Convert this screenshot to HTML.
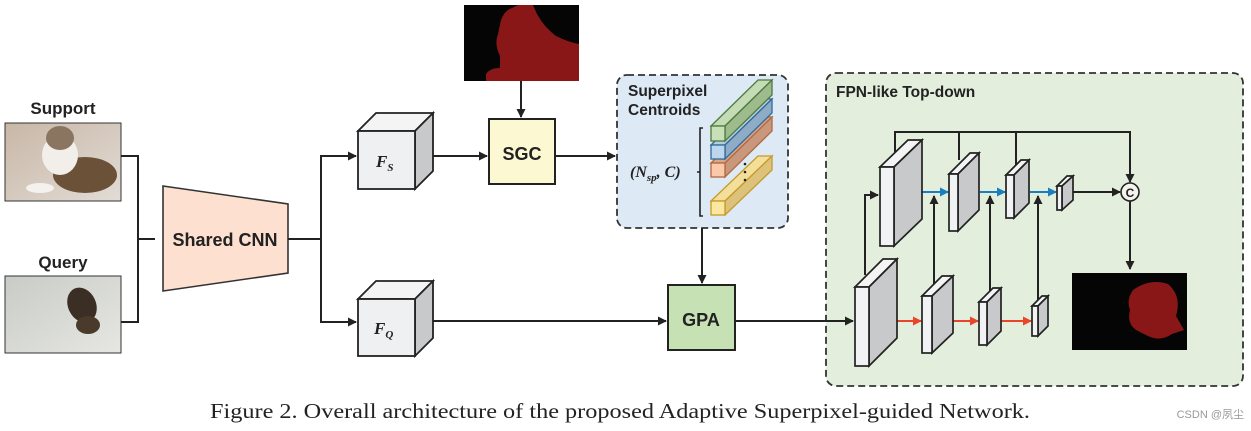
<!DOCTYPE html>
<html><head><meta charset="utf-8"><style>
html,body{margin:0;padding:0;background:#fff;}
svg{display:block;}
.b{font-family:"Liberation Sans",Arial,sans-serif;font-weight:bold;}
</style></head><body>
<svg width="1251" height="431" viewBox="0 0 1251 431" xmlns="http://www.w3.org/2000/svg">
<defs>
<marker id="ah" markerWidth="9" markerHeight="9" refX="8" refY="4.5" orient="auto" markerUnits="userSpaceOnUse"><path d="M0,0 L9,4.5 L0,9 z" fill="#222"/></marker>
<marker id="ab" markerWidth="9" markerHeight="9" refX="8" refY="4.5" orient="auto" markerUnits="userSpaceOnUse"><path d="M0,0 L9,4.5 L0,9 z" fill="#1a7fc1"/></marker>
<marker id="ar" markerWidth="9" markerHeight="9" refX="8" refY="4.5" orient="auto" markerUnits="userSpaceOnUse"><path d="M0,0 L9,4.5 L0,9 z" fill="#e8452a"/></marker>
<linearGradient id="sg" x1="0" y1="0" x2="1" y2="1"><stop offset="0" stop-color="#c8b7a6"/><stop offset="1" stop-color="#e2dcd6"/></linearGradient>
<linearGradient id="qg" x1="0" y1="0" x2="1" y2="1"><stop offset="0" stop-color="#c9cbc6"/><stop offset="1" stop-color="#e6e7e3"/></linearGradient>
</defs>

<text x="63" y="114" class="b" font-size="17" text-anchor="middle" fill="#222">Support</text>
<text x="63" y="268" class="b" font-size="17" text-anchor="middle" fill="#222">Query</text>
<rect x="5" y="123" width="116" height="78" fill="url(#sg)" stroke="#333" stroke-width="1"/>
<ellipse cx="85" cy="175" rx="32" ry="18" fill="#6b5138"/>
<ellipse cx="60" cy="155" rx="18" ry="20" fill="#f2eeea"/>
<ellipse cx="60" cy="138" rx="14" ry="12" fill="#8a7560"/>
<ellipse cx="40" cy="188" rx="14" ry="5" fill="#f4f1ee"/>
<rect x="5" y="276" width="116" height="77" fill="url(#qg)" stroke="#333" stroke-width="1"/>
<ellipse cx="82" cy="305" rx="14" ry="18" fill="#3b2e24" transform="rotate(-25 82 305)"/>
<ellipse cx="88" cy="325" rx="12" ry="9" fill="#4a3a2c"/>

<path d="M121,156 H138 V322 H121 M138,239 H155" fill="none" stroke="#222" stroke-width="2"/>
<path d="M163,186 L288,204 L288,273 L163,291 Z" fill="#fde0cf" stroke="#333" stroke-width="1.6"/>
<text x="225" y="246" class="b" font-size="18" text-anchor="middle" fill="#222">Shared CNN</text>
<path d="M288,239 H321 V156 H340 M321,239 V322 H340" fill="none" stroke="#222" stroke-width="2"/>
<path d="M339,156 H356" stroke="#222" stroke-width="2" marker-end="url(#ah)"/>
<path d="M339,322 H356" stroke="#222" stroke-width="2" marker-end="url(#ah)"/>

<g stroke="#222" stroke-width="1.8">
<path d="M358,131 L376,113 L433,113 L415,131 Z" fill="#f4f4f5"/>
<path d="M415,131 L433,113 L433,171 L415,189 Z" fill="#c8c9cb"/>
<rect x="358" y="131" width="57" height="58" fill="#eef0f2"/>
</g>
<text x="376" y="167" font-family="Liberation Serif,serif" font-style="italic" font-weight="bold" font-size="17" fill="#222">F<tspan font-size="11" dy="4">S</tspan></text>
<g stroke="#222" stroke-width="1.8">
<path d="M358,299 L376,281 L433,281 L415,299 Z" fill="#f4f4f5"/>
<path d="M415,299 L433,281 L433,338 L415,356 Z" fill="#c8c9cb"/>
<rect x="358" y="299" width="57" height="57" fill="#eef0f2"/>
</g>
<text x="374" y="334" font-family="Liberation Serif,serif" font-style="italic" font-weight="bold" font-size="17" fill="#222">F<tspan font-size="11" dy="4">Q</tspan></text>

<rect x="464" y="5" width="115" height="76" fill="#050505"/>
<path d="M486,81 L486,74 Q490,68 500,68 L500,56 Q494,44 498,34 L501,20 Q505,10 512,8 L518,5 L533,5 L537,14 Q544,27 556,36 Q568,42 579,44 L579,81 Z" fill="#8a1717"/>
<path d="M521,81 V117" stroke="#222" stroke-width="2" marker-end="url(#ah)"/>
<rect x="489" y="119" width="66" height="65" fill="#fcf8d2" stroke="#222" stroke-width="2"/>
<text x="522" y="160" class="b" font-size="18" text-anchor="middle" fill="#222">SGC</text>
<path d="M433,156 H487" stroke="#222" stroke-width="2" marker-end="url(#ah)"/>
<path d="M555,156 H615" stroke="#222" stroke-width="2" marker-end="url(#ah)"/>

<rect x="617" y="75" width="171" height="153" rx="10" fill="#dde9f5" stroke="#333" stroke-width="1.8" stroke-dasharray="7,4"/>
<text x="628" y="96" class="b" font-size="15.5" fill="#222">Superpixel</text>
<text x="628" y="115" class="b" font-size="15.5" fill="#222">Centroids</text>
<text x="630" y="177" font-family="Liberation Serif,serif" font-style="italic" font-weight="bold" font-size="16" fill="#222">(N<tspan font-size="11" dy="4">sp</tspan><tspan dy="-4">, C)</tspan></text>
<path d="M703,128 H700 V216 H703 M697,172 H700" fill="none" stroke="#222" stroke-width="1.6"/>
<g stroke-width="1.3">
<g stroke="#b36a3e"><path d="M711,163 L758,117 L772,117 L725,163 Z" fill="#d9a78c"/><path d="M725,163 L772,117 L772,131 L725,177 Z" fill="#c9987c"/><rect x="711" y="163" width="14" height="14" fill="#f9c9aa"/></g>
<g stroke="#2f6a99"><path d="M711,145 L758,99 L772,99 L725,145 Z" fill="#b5cde0"/><path d="M725,145 L772,99 L772,113 L725,159 Z" fill="#8eacc5"/><rect x="711" y="145" width="14" height="14" fill="#bcd7ed"/></g>
<g stroke="#4d7a3c"><path d="M711,126 L758,80 L772,80 L725,126 Z" fill="#c4dcb6"/><path d="M725,126 L772,80 L772,95 L725,141 Z" fill="#9dbb8d"/><rect x="711" y="126" width="14" height="15" fill="#c8e0b8"/></g>
<g stroke="#c59a2a"><path d="M711,201 L758,156 L772,156 L725,201 Z" fill="#f4df9a"/><path d="M725,201 L772,156 L772,170 L725,215 Z" fill="#dcc27a"/><rect x="711" y="201" width="14" height="14" fill="#fbe79f"/></g>
</g>
<g fill="#222"><circle cx="745" cy="164" r="1.3"/><circle cx="745" cy="172" r="1.3"/><circle cx="745" cy="180" r="1.3"/></g>
<path d="M702,228 V283" stroke="#222" stroke-width="2" marker-end="url(#ah)"/>

<path d="M433,321 H666" stroke="#222" stroke-width="2" marker-end="url(#ah)"/>
<rect x="668" y="285" width="67" height="65" fill="#c6e2b4" stroke="#222" stroke-width="2"/>
<text x="701" y="326" class="b" font-size="18" text-anchor="middle" fill="#222">GPA</text>

<rect x="826" y="73" width="417" height="313" rx="10" fill="#e3efdc" stroke="#333" stroke-width="1.8" stroke-dasharray="7,4"/>
<text x="836" y="97" class="b" font-size="15.5" fill="#222">FPN-like Top-down</text>
<path d="M735,321 H853" stroke="#222" stroke-width="2" marker-end="url(#ah)"/>

<g fill="none" stroke="#222" stroke-width="2">
<path d="M895,152 V132 H1130 V182" marker-end="url(#ah)"/>
<path d="M959,160 V132"/>
<path d="M1016,166 V132"/>
<path d="M865,275 V195 H878" marker-end="url(#ah)"/>
<path d="M934,288 V196" marker-end="url(#ah)"/>
<path d="M990,296 V196" marker-end="url(#ah)"/>
<path d="M1038,302 V196" marker-end="url(#ah)"/>
<path d="M1073,192 H1120" marker-end="url(#ah)"/>
<path d="M1130,201 V269" marker-end="url(#ah)"/>
</g>
<g stroke-width="2" fill="none">
<path d="M922,192 H948" stroke="#1a7fc1" marker-end="url(#ab)"/>
<path d="M980,192 H1005" stroke="#1a7fc1" marker-end="url(#ab)"/>
<path d="M1030,192 H1056" stroke="#1a7fc1" marker-end="url(#ab)"/>
<path d="M897,321 H921" stroke="#e8452a" marker-end="url(#ar)"/>
<path d="M953,321 H978" stroke="#e8452a" marker-end="url(#ar)"/>
<path d="M1001,321 H1031" stroke="#e8452a" marker-end="url(#ar)"/>
</g>
<circle cx="1130" cy="192" r="9" fill="#f4f4ee" stroke="#222" stroke-width="1.6"/>
<text x="1130" y="197" class="b" font-size="12" text-anchor="middle" fill="#222">C</text>

<g stroke="#222" stroke-width="1.7">
<path d="M880,167 L908,140 L922,140 L894,167 Z" fill="#f4f4f5"/><path d="M894,167 L922,140 L922,219 L894,246 Z" fill="#c8c9cb"/><rect x="880" y="167" width="14" height="79" fill="#f1f2f4"/>
<path d="M949,174 L970,153 L979,153 L958,174 Z" fill="#f4f4f5"/><path d="M958,174 L979,153 L979,210 L958,231 Z" fill="#c8c9cb"/><rect x="949" y="174" width="9" height="57" fill="#f1f2f4"/>
<path d="M1006,175 L1021,160 L1029,160 L1014,175 Z" fill="#f4f4f5"/><path d="M1014,175 L1029,160 L1029,203 L1014,218 Z" fill="#c8c9cb"/><rect x="1006" y="175" width="8" height="43" fill="#f1f2f4"/>
<path d="M1057,186 L1067,176 L1073,176 L1062,186 Z" fill="#f4f4f5"/><path d="M1062,186 L1073,176 L1073,200 L1062,210 Z" fill="#c8c9cb"/><rect x="1057" y="186" width="5" height="24" fill="#f1f2f4"/>
<path d="M855,287 L883,259 L897,259 L869,287 Z" fill="#f4f4f5"/><path d="M869,287 L897,259 L897,338 L869,366 Z" fill="#c8c9cb"/><rect x="855" y="287" width="14" height="79" fill="#f1f2f4"/>
<path d="M922,296 L942,276 L953,276 L932,296 Z" fill="#f4f4f5"/><path d="M932,296 L953,276 L953,333 L932,353 Z" fill="#c8c9cb"/><rect x="922" y="296" width="10" height="57" fill="#f1f2f4"/>
<path d="M979,302 L993,288 L1001,288 L987,302 Z" fill="#f4f4f5"/><path d="M987,302 L1001,288 L1001,331 L987,345 Z" fill="#c8c9cb"/><rect x="979" y="302" width="8" height="43" fill="#f1f2f4"/>
<path d="M1032,306 L1042,296 L1048,296 L1038,306 Z" fill="#f4f4f5"/><path d="M1038,306 L1048,296 L1048,326 L1038,336 Z" fill="#c8c9cb"/><rect x="1032" y="306" width="6" height="30" fill="#f1f2f4"/>
</g>

<rect x="1072" y="273" width="115" height="77" fill="#050505"/>
<path d="M1133,290 Q1150,278 1168,284 Q1182,296 1176,316 L1184,330 L1172,334 Q1160,342 1148,336 L1140,332 Q1126,326 1130,310 Q1126,300 1133,290 Z" fill="#8a1717"/>

<text x="210" y="418" textLength="820" lengthAdjust="spacingAndGlyphs" font-family="Liberation Serif,serif" font-size="21" fill="#222">Figure 2. Overall architecture of the proposed Adaptive Superpixel-guided Network.</text>
<text x="1244" y="418" font-family="Liberation Sans,'Noto Sans CJK SC',sans-serif" font-size="11" text-anchor="end" fill="#999">CSDN @夙尘</text>
</svg>
</body></html>
